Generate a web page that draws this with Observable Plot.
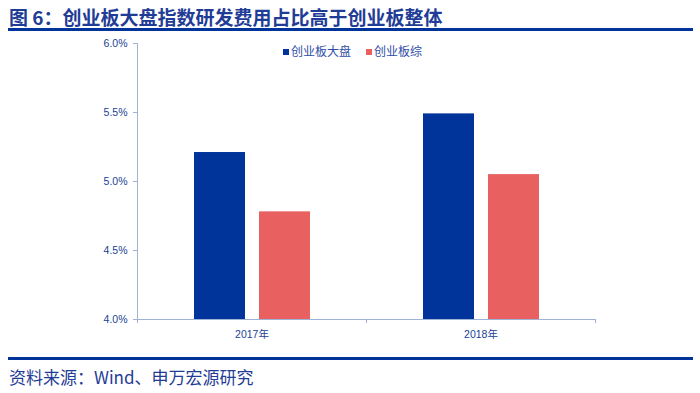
<!DOCTYPE html>
<html><head><meta charset="utf-8">
<script src="https://cdn.jsdelivr.net/npm/d3@7"></script>
<script src="https://cdn.jsdelivr.net/npm/@observablehq/plot@0.6"></script>
<style>
body{margin:0;width:700px;height:393px;position:relative;background:#fff;overflow:hidden;font-family:"Liberation Sans","Noto Sans CJK SC",sans-serif}
#title{position:absolute;left:9px;top:5px;font-size:19px;font-weight:bold;color:#1F3C96;white-space:nowrap;line-height:24px;font-family:"Noto Sans CJK SC",sans-serif}
.hr{position:absolute;left:8px;width:685px;height:3px;background:#00349A}
#chart{position:absolute;left:0;top:33px}
#legend{position:absolute;top:43px;left:283px;font-size:12px;color:#2F4DA5;white-space:nowrap;font-family:"Noto Sans CJK SC",sans-serif;line-height:16px}
#legend span.item{position:absolute;top:0}
#legend i{display:inline-block;width:6px;height:6px;margin-right:2px;vertical-align:1px}
#source{position:absolute;left:9px;top:366px;font-size:17px;color:#1F3C96;white-space:nowrap;font-family:"Noto Sans CJK SC",sans-serif;line-height:22px}
</style></head>
<body>
<div id="title">图 6：创业板大盘指数研发费用占比高于创业板整体</div>
<div class="hr" style="top:28px"></div>
<div id="chart"></div>
<div id="legend"></div>
<div class="hr" style="top:357px"></div>
<div id="source">资料来源：Wind、申万宏源研究</div>
<script>
const years = ["2017年", "2018年"];
const seriesNames = ["创业板大盘", "创业板综"];
const largeCap = [5.21, 5.49];
const composite = [4.78, 5.05];
const yTicks = [4.0, 4.5, 5.0, 5.5, 6.0];
const colors = ["#00349A", "#E86060"];

const yDomain = [yTicks[0], yTicks[yTicks.length - 1]];
const rows = years.flatMap((y, i) => [
  {year: y, series: seriesNames[0], value: largeCap[i]},
  {year: y, series: seriesNames[1], value: composite[i]}
]);
const axisColor = "#9FB3D6";
const textColor = "#203F95";
const half = 229 / 2;

const chart = Plot.plot({
  width: 700,
  height: 317,
  marginLeft: 137,
  marginRight: 105,
  marginTop: 10,
  marginBottom: 31,
  style: {fontFamily: "'Liberation Sans','Noto Sans CJK SC',sans-serif", fontSize: "10.5px", background: "white"},
  x: {type: "band", domain: years, padding: 0, label: null},
  y: {domain: yDomain, label: null},
  marks: [
    Plot.barY(rows.filter(d => d.series === seriesNames[0]), {x: "year", y1: yDomain[0], y2: "value", fill: colors[0], insetLeft: 57, insetRight: 121}),
    Plot.barY(rows.filter(d => d.series === seriesNames[1]), {x: "year", y1: yDomain[0], y2: "value", fill: colors[1], insetLeft: 122, insetRight: 56}),
    Plot.ruleY([yDomain[0]], {stroke: axisColor}),
    Plot.ruleX([years[0]], {y1: yDomain[0], y2: yDomain[1], dx: -half, stroke: axisColor}),
    Plot.ruleX(years, {y1: yDomain[0], y2: yDomain[0], dx: -half, insetBottom: -4, stroke: axisColor}),
    Plot.ruleX([years[years.length - 1]], {y1: yDomain[0], y2: yDomain[0], dx: half, insetBottom: -4, stroke: axisColor}),
    Plot.axisY({ticks: yTicks, tickFormat: d => d.toFixed(1) + "%", tickSize: 4, tickPadding: 6, stroke: axisColor, fill: textColor, fontSize: 10.5, label: null}),
    Plot.axisX({tickSize: 0, tickPadding: 11, fill: textColor, fontSize: 10.5, label: null})
  ]
});
document.getElementById("chart").appendChild(chart);

const legend = document.getElementById("legend");
const offsets = [0, 83];
seriesNames.forEach((s, i) => {
  const span = document.createElement("span");
  span.className = "item";
  span.style.left = offsets[i] + "px";
  span.innerHTML = `<i style="background:${colors[i]}"></i>${s}`;
  legend.appendChild(span);
});
</script>
</body></html>
